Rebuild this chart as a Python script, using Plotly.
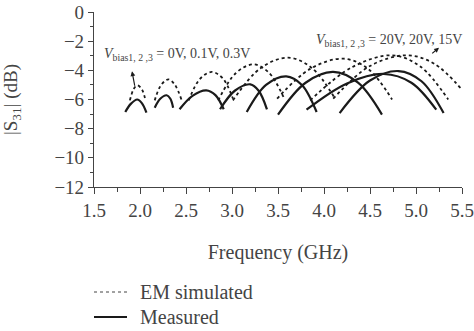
import plotly.graph_objects as go

# EM simulated curves (dotted)
sim_x = [
    [1.89, 1.93, 1.97, 2.02, 2.06],
    [2.16, 2.23, 2.31, 2.38, 2.45],
    [2.53, 2.65, 2.78, 2.90, 3.01],
    [2.85, 3.04, 3.23, 3.40, 3.56],
    [3.01, 3.31, 3.61, 3.87, 4.12],
    [3.49, 3.85, 4.21, 4.48, 4.74],
    [3.85, 4.30, 4.74, 5.05, 5.35],
    [4.10, 4.50, 4.90, 5.20, 5.50],
]
sim_y = [
    [-6.06, -5.30, -5.03, -5.30, -6.06],
    [-6.06, -5.00, -4.62, -5.00, -6.00],
    [-6.06, -4.60, -4.11, -4.55, -5.94],
    [-6.06, -4.20, -3.59, -4.15, -5.83],
    [-6.06, -3.85, -3.13, -3.85, -5.94],
    [-5.94, -3.90, -3.20, -3.90, -6.00],
    [-6.06, -3.80, -2.97, -3.75, -6.00],
    [-5.94, -3.70, -2.97, -3.55, -5.33],
]

# Measured curves (solid)
meas_x = [
    [1.84, 1.90, 1.97, 2.02, 2.07],
    [2.16, 2.22, 2.29, 2.33, 2.36],
    [2.43, 2.57, 2.72, 2.82, 2.91],
    [2.87, 3.03, 3.20, 3.29, 3.38],
    [3.16, 3.37, 3.59, 3.76, 3.92],
    [3.50, 3.80, 4.10, 4.37, 4.63],
    [3.81, 4.25, 4.65, 4.95, 5.22],
    [4.17, 4.50, 4.81, 5.06, 5.30],
]
meas_y = [
    [-6.86, -6.30, -6.00, -6.25, -6.90],
    [-6.56, -5.95, -5.71, -5.95, -6.56],
    [-6.67, -5.75, -5.37, -5.70, -6.67],
    [-6.67, -5.40, -4.96, -5.40, -6.67],
    [-6.86, -5.00, -4.41, -5.00, -6.86],
    [-7.04, -4.85, -4.11, -4.85, -7.04],
    [-6.70, -4.90, -4.25, -4.85, -6.70],
    [-6.93, -4.70, -4.05, -4.75, -6.93],
]

x_ticks = [1.5, 2.0, 2.5, 3.0, 3.5, 4.0, 4.5, 5.0, 5.5]
y_ticks = [0, -2, -4, -6, -8, -10, -12]
legend_names = ["EM simulated", "Measured"]

FONT = "Liberation Serif"
ink = "#1a1a1a"
axc = "#444444"

fig = go.Figure()
for i, (xs, ys) in enumerate(zip(sim_x, sim_y)):
    fig.add_trace(go.Scatter(x=xs, y=ys, mode="lines", line=dict(color=ink, width=1.8, dash="dot", shape="spline", smoothing=1.0),
                             name=legend_names[0], showlegend=False))
for i, (xs, ys) in enumerate(zip(meas_x, meas_y)):
    fig.add_trace(go.Scatter(x=xs, y=ys, mode="lines", line=dict(color=ink, width=2.2, shape="spline", smoothing=1.0),
                             name=legend_names[1], showlegend=False))

fig.add_annotation(x=1.913, y=-4.07, ax=1.946, ay=-5.16, xref="x", yref="y", axref="x", ayref="y",
                   text="", showarrow=True, arrowhead=2, arrowsize=0.8, arrowwidth=1.2, arrowcolor=ink)
fig.add_annotation(x=5.25, y=-2.45, ax=5.16, ay=-2.92, xref="x", yref="y", axref="x", ayref="y",
                   text="", showarrow=True, arrowhead=2, arrowsize=0.8, arrowwidth=1.2, arrowcolor=ink)

fig.add_annotation(x=1.585, y=-2.9, xref="x", yref="y", xanchor="left", yanchor="middle", showarrow=False,
                   text="<i>V</i><sub>bias1, 2 ,3</sub> = 0V, 0.1V, 0.3V", font=dict(family=FONT, size=14, color=axc))
fig.add_annotation(x=1.005, y=0.84, xref="paper", yref="paper", xanchor="right", yanchor="middle", showarrow=False,
                   text="<i>V</i><sub>bias1, 2 ,3</sub> = 20V, 20V, 15V", font=dict(family=FONT, size=14, color=axc))

# manual legend (paper coords: plot area spans 368 x 175 px)
H = 175.0
W = 368.0
def py(pix):
    return -(pix - 187.0) / H
def px(pix):
    return (pix - 94.0) / W
fig.add_shape(type="line", xref="paper", yref="paper", x0=px(94), x1=px(127), y0=py(292), y1=py(292),
              line=dict(color=axc, width=1, dash="dot"))
fig.add_shape(type="line", xref="paper", yref="paper", x0=px(94), x1=px(127), y0=py(317), y1=py(317),
              line=dict(color=ink, width=1.8))
fig.add_annotation(x=px(138), y=py(292), xref="paper", yref="paper", xanchor="left", yanchor="middle", showarrow=False,
                   text=legend_names[0], font=dict(family=FONT, size=20, color=axc))
fig.add_annotation(x=px(138), y=py(317), xref="paper", yref="paper", xanchor="left", yanchor="middle", showarrow=False,
                   text=legend_names[1], font=dict(family=FONT, size=20, color=axc))

fig.update_layout(
    width=474, height=331,
    margin=dict(l=94, r=12, t=12, b=144),
    paper_bgcolor="white", plot_bgcolor="white",
    font=dict(family=FONT, size=19, color=axc),
    showlegend=False,
)
fig.update_xaxes(range=[1.5, 5.5], tickvals=x_ticks, ticktext=[f"{v:.1f}" for v in x_ticks], automargin=False,
                 showgrid=False, zeroline=False, showline=True, linecolor=axc, linewidth=1.2,
                 ticks="outside", ticklen=6, tickcolor=axc, tickwidth=1.2, ticklabelstandoff=0,
                 minor=dict(dtick=0.25, ticks="outside", ticklen=4, tickcolor=axc, tickwidth=1.2),
                 title=dict(text="Frequency (GHz)", font=dict(family=FONT, size=20, color=axc), standoff=25),
                 tickfont=dict(family=FONT, size=19, color=axc))
fig.update_yaxes(range=[-12, 0], tickvals=y_ticks, ticktext=["0" if v == 0 else "\u2212" + str(-v) for v in y_ticks],
                 automargin=False,
                 showgrid=False, zeroline=False, showline=True, linecolor=axc, linewidth=1.2,
                 ticks="outside", ticklen=5, tickcolor=axc, tickwidth=1.2,
                 minor=dict(dtick=1, ticks="outside", ticklen=3, tickcolor=axc, tickwidth=1.2),
                 title=dict(text="|S<sub>31</sub>| (dB)", font=dict(family=FONT, size=19, color=axc), standoff=38),
                 tickfont=dict(family=FONT, size=19, color=axc))

fig.write_html("out.html")
